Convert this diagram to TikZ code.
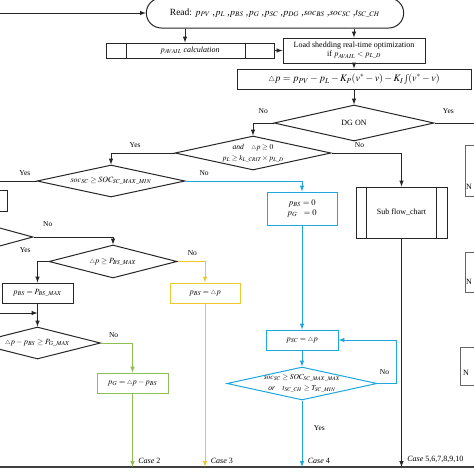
\documentclass[tikz,border=0pt]{standalone}
\usepackage{amsmath}
\usepackage{amssymb}
\usepackage{mathptmx}
\usepackage{fontspec}
\setmainfont{Liberation Serif}
\usepackage{tikz}
\usetikzlibrary{shapes.geometric,shapes.misc}
\definecolor{scblue}{RGB}{30,166,222}
\definecolor{bsyellow}{RGB}{238,198,46}
\definecolor{ggreen}{RGB}{140,192,84}
\newcommand{\dlt}{{\scriptstyle\triangle}}

\begin{document}
\begin{tikzpicture}
  [x=1pt, y=-1pt, font=\fontsize{8}{9}\selectfont,
  line/.style={draw, -latex, draw=black!85, line width=1pt},
  noarrow/.style={draw, draw=black!85, line width=1pt},
  blueline/.style={draw, -latex, draw=scblue, line width=1pt},
  yellowline/.style={draw, -latex, draw=bsyellow, line width=1pt},
  greenline/.style={draw, -latex, draw=ggreen, line width=1pt},
  caseline/.style={draw, draw=black!75, line width=1.5pt},
  block/.style={rectangle, draw=black!85, line width=1pt, inner sep=1pt},
  bblock/.style={rectangle, draw=scblue, line width=1pt, inner sep=1pt},
  yblock/.style={rectangle, draw=bsyellow, line width=1pt, inner sep=1pt},
  gblock/.style={rectangle, draw=ggreen, line width=1pt, inner sep=1pt},
  rblock/.style={rectangle, draw=black!60, line width=1pt},
  subproc/.style={rectangle, draw=black!85, line width=1pt},
  terminal/.style={rounded rectangle, draw=black!85, line width=1pt},
  decision/.style={diamond, draw=black!85, line width=1pt, inner sep=0pt},
  bdecision/.style={diamond, draw=scblue, line width=1pt, inner sep=0pt},
  dtext/.style={align=center, inner sep=0pt, font=\fontsize{7.5}{11}\selectfont},
  lbl/.style={font=\fontsize{7.5}{8}\selectfont, above=2pt}]
  \useasboundingbox (0,0) rectangle (474,474);
  \clip (0,0) rectangle (474,474);
  \fill [white] (0,0) rectangle (474,474);
  % nodes
  \node [terminal, minimum width=264, minimum height=30, font=\fontsize{9.5}{10}\selectfont] (read) at (275,13)
    {Read: $p_{PV}$ ,$p_L$ ,$p_{BS}$ ,$p_G$ ,$p_{SC}$ ,$p_{DG}$ ,$soc_{BS}$ ,$soc_{SC}$ ,$t_{SC\_CH}$};
  \node [subproc, minimum width=168, minimum height=15] (avail) at (190,50.5) {$p_{AVAIL}$ \textit{calculation}};
  \node [block, minimum width=142, minimum height=25, align=center] (shed) at (354,50.5)
    {Load shedding real-time optimization\\if $p_{AVAIL} < p_{L\_D}$};
  \node [block, minimum width=234, minimum height=20, font=\fontsize{10}{11}\selectfont] (dp) at (354,79)
    {$\dlt p = p_{PV} - p_L - K_P(v^{*} - v) - K_I\!\int\!(v^{*} - v)$};
  \node [decision, minimum width=160, minimum height=36, label=center:DG ON] (dg) at (354,123) {};
  \node [decision, minimum width=156, minimum height=34,
    label={[dtext]center:{\textit{and}\quad $\dlt p \geq 0$\\$p_L \geq k_{L\_CRIT}\!\times p_{L\_D}$}}] (crit) at (253,153) {};
  \node [decision, minimum width=148, minimum height=32,
    label=center:{$soc_{SC} \geq SOC_{SC\_MAX\_MIN}$}] (socmin) at (111,181) {};
  \node [block, minimum width=60, minimum height=21] (lbox) at (-23,200.5) {};
  \node [decision, minimum width=124, minimum height=34] (lcut) at (-29,237) {};
  \node [decision, minimum width=128, minimum height=33,
    label=center:{$\dlt p \geq P_{BS\_MAX}$}] (bsmax) at (113,261.5) {};
  \node [block, minimum width=71, minimum height=20] (bsset) at (37.5,293) {$p_{BS} = P_{BS\_MAX}$};
  \node [yblock, minimum width=70, minimum height=20] (bsdp) at (205,293) {$p_{BS} = \dlt p$};
  \node [decision, minimum width=126, minimum height=32,
    label=center:{$\dlt p - p_{BS} \geq P_{G\_MAX}$}] (gmax) at (37.5,343) {};
  \node [gblock, minimum width=71, minimum height=20] (gset) at (132.5,383) {$p_G = \dlt p - p_{BS}$};
  \node [bblock, minimum width=70, minimum height=33, align=center, font=\fontsize{8.5}{10}\selectfont] (zero) at (302,208.5)
    {$p_{BS} = 0$\\$p_G\;\;\, = 0$};
  \node [bblock, minimum width=72, minimum height=20] (scset) at (302,340) {$p_{SC} = \dlt p$};
  \node [bdecision, minimum width=150, minimum height=33,
    label={[dtext]center:{$soc_{SC} \geq SOC_{SC\_MAX\_MAX}$\\\textit{or}\quad $t_{SC\_CH} \geq T_{SC\_MIN}$}}] (scmax) at (302,383.5) {};
  \node [subproc, minimum width=91, minimum height=51] (sub) at (401.5,212.5) {Sub flow\_chart};
  \node [rblock, minimum width=60, minimum height=51, anchor=north west] (rA) at (465,145) {};
  \node [rblock, minimum width=60, minimum height=40, anchor=north west] (rB) at (465,252) {};
  \node [rblock, minimum width=60, minimum height=38, anchor=north west] (rC) at (460,347) {};
  \node [anchor=west, inner sep=0pt] (nA) at (466,187) {N};
  \node [anchor=west, inner sep=0pt] (nB) at (466,282) {N};
  \node [anchor=west, inner sep=0pt] (nC) at (463,373) {N};
  \draw [black!85, line width=1pt] ([xshift=21pt]avail.north west) -- ([xshift=21pt]avail.south west)
    ([xshift=-29pt]avail.north east) -- ([xshift=-29pt]avail.south east);
  \draw [black!85, line width=1pt] ([xshift=11pt]sub.north west) -- ([xshift=11pt]sub.south west)
    ([xshift=-11pt]sub.north east) -- ([xshift=-11pt]sub.south east);
  \coordinate (readin) at (0,13);
  \coordinate (dgyes) at (474,123);
  \coordinate (socyes) at (0,181);
  \coordinate (bsin) at (0,313);
  \coordinate (bl) at (0,467);
  \coordinate (br) at (474,467);
  % edges
  \path [caseline] (bl) -- (br);
  \path [line] (readin) -- (read.west);
  \path [line] ([xshift=-5pt]avail.north |- read.south) -- ([xshift=-5pt]avail.north);
  \path [line] (shed.north |- read.south) -- (shed.north);
  \path [line] (avail) -- (shed);
  \path [line] (shed) -- (dp);
  \path [line] (dp) -- (dg);
  \path [line] (dg.west) -| node [lbl, pos=0.25, above=4pt] {No} (crit.north);
  \path [noarrow] (dg.east) -- node [lbl, pos=0.35, above=4pt] {Yes} (dgyes);
  \path [line] (crit.east) -| node [lbl, pos=0.2] {No} (sub.north);
  \path [line] (crit.west) -| node [lbl, pos=0.31] {Yes} (socmin.north);
  \path [noarrow] (socmin.west) -- node [lbl, pos=0.32] {Yes} (socyes);
  \path [blueline] (socmin.east) -| node [lbl, pos=0.08] {No} (zero.north);
  \path [line] (lcut.east) -| node [lbl, pos=0.09, above=5pt] {No} (bsmax.north);
  \path [line] (bsmax.west) -| node [lbl, pos=0.5, above left=3pt] {Yes} (bsset.north);
  \path [yellowline] (bsmax.east) -| node [lbl, pos=0.27] {No} (bsdp.north);
  \path [line] (bsset) -- (gmax);
  \path [line] (bsin) -- (bsin -| bsset.south);
  \path [greenline] (gmax.east) -| node [lbl, pos=0.2] {No} (gset.north);
  \path [greenline] (gset.south) -- node [pos=1, above right, xshift=2pt] {\textit{Case} 2} (gset.south |- bl);
  \path [yellowline] (bsdp.south) -- node [pos=1, above right, xshift=2pt] {\textit{Case} 3} (bsdp.south |- bl);
  \path [blueline] (zero) -- (scset);
  \path [blueline] (scset) -- (scmax);
  \path [blueline] (scmax.east) -- node [lbl, pos=0.37, above=3pt] {No} ++(19,0) |- (scset.east);
  \path [blueline] (scmax.south) -- node [lbl, pos=0.45, right=8pt] {Yes}
    node [pos=1, above right, xshift=2pt] {\textit{Case} 4} (scmax.south |- bl);
  \path [line] (sub.south) -- node [pos=1, above right, xshift=2pt] {\textit{Case} 5,6,7,8,9,10} (sub.south |- bl);
\end{tikzpicture}
\end{document}
